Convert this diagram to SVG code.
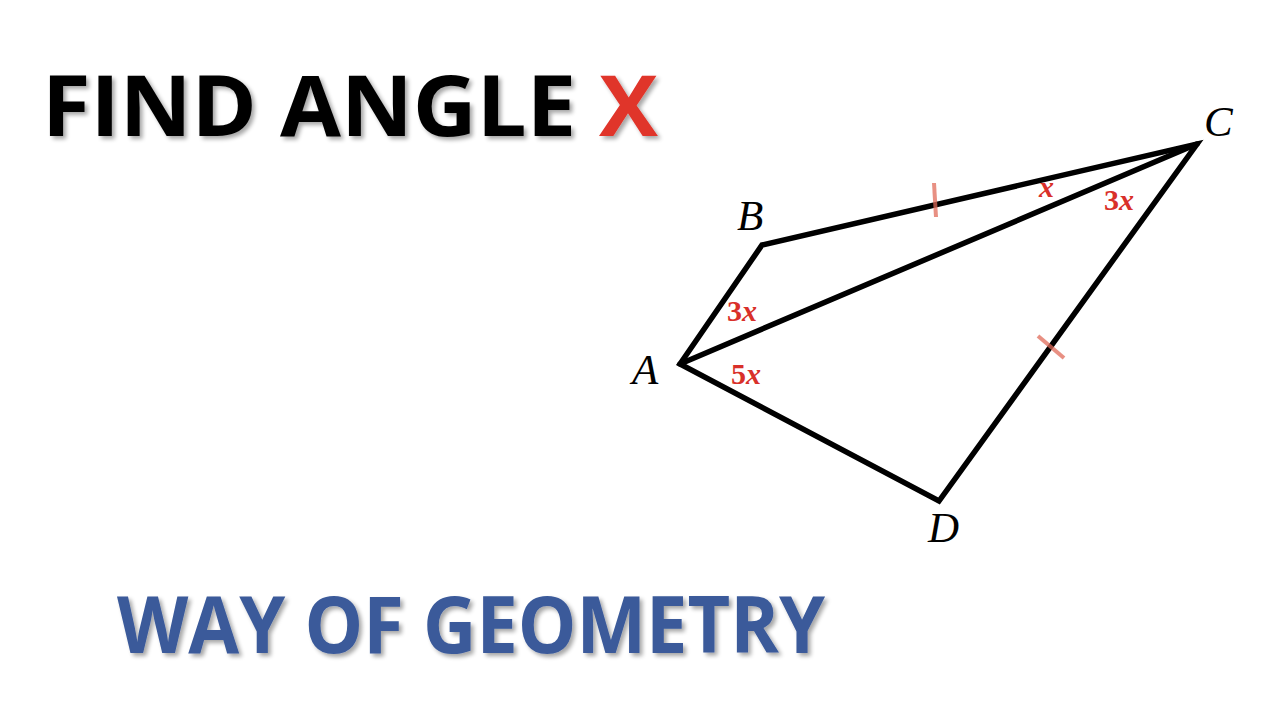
<svg xmlns="http://www.w3.org/2000/svg" width="1280" height="720" viewBox="0 0 1280 720">
<defs>
<filter id="sh" x="-5%" y="-20%" width="110%" height="140%">
<feGaussianBlur in="SourceAlpha" stdDeviation="2"/>
<feOffset dx="3" dy="3" result="b"/>
<feComponentTransfer><feFuncA type="linear" slope="0.35"/></feComponentTransfer>
<feMerge><feMergeNode/><feMergeNode in="SourceGraphic"/></feMerge>
</filter>
</defs>
<style>
.title{font-family:"Open Sans","Liberation Sans",sans-serif;font-weight:700}
.pt{font-family:"Liberation Serif",serif;font-style:italic;font-size:43px;fill:#000}
.ang{font-family:"Liberation Serif",serif;font-weight:700;font-size:30px;fill:#D9302A}
.ang tspan.v{font-style:italic}
.edge{stroke:#000;stroke-width:5.5;stroke-linecap:round;stroke-linejoin:miter;fill:none}
.tick{stroke:#E06B5A;stroke-opacity:0.75;stroke-width:4}
</style>
<rect width="1280" height="720" fill="#fff"/>
<g id="title" filter="url(#sh)">
<text class="title" x="42" y="136" font-size="84" textLength="616" lengthAdjust="spacingAndGlyphs"><tspan fill="#000">FIND ANGLE </tspan><tspan fill="#E0342A">X</tspan></text>
</g>
<g id="subtitle" filter="url(#sh)">
<text class="title" x="117" y="653" font-size="78" fill="#3B5A9A" textLength="708" lengthAdjust="spacingAndGlyphs">WAY OF GEOMETRY</text>
</g>
<g id="connectors">
<path class="edge" d="M680,364 L762,245 L1197,144 L939,501 Z"/>
<line class="edge" x1="680" y1="364" x2="1197" y2="144"/>
<line class="tick" x1="934" y1="183" x2="936" y2="217"/>
<line class="tick" x1="1038" y1="336" x2="1064" y2="358"/>
</g>
<g id="node-A"><text class="pt" x="632" y="384">A</text></g>
<g id="node-B"><text class="pt" x="737" y="230">B</text></g>
<g id="node-C"><text class="pt" x="1204" y="136">C</text></g>
<g id="node-D"><text class="pt" x="928" y="542">D</text></g>
<g id="angle-BAC"><text class="ang" x="727" y="321">3<tspan class="v">x</tspan></text></g>
<g id="angle-CAD"><text class="ang" x="731" y="384">5<tspan class="v">x</tspan></text></g>
<g id="angle-BCA"><text class="ang" x="1039" y="197"><tspan class="v">x</tspan></text></g>
<g id="angle-ACD"><text class="ang" x="1104" y="210">3<tspan class="v">x</tspan></text></g>
</svg>
